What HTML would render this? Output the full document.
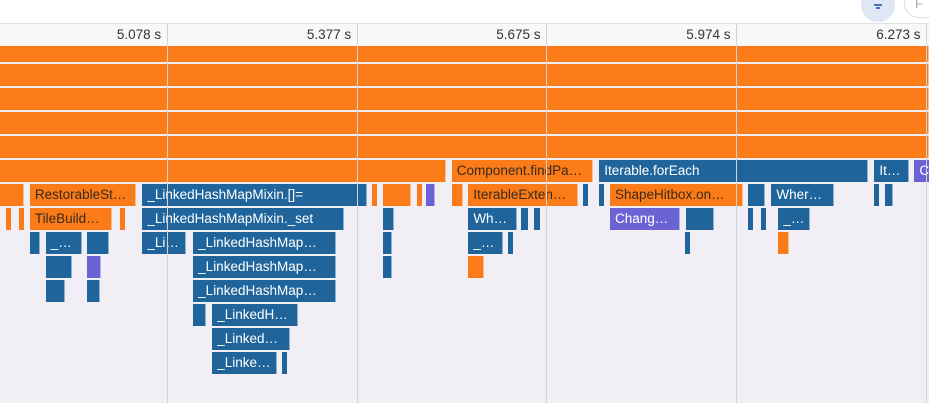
<!DOCTYPE html>
<html><head><meta charset="utf-8"><style>
body{margin:0;width:929px;height:403px;overflow:hidden;background:#f1eff5;font-family:"Liberation Sans",sans-serif;position:relative}
#top{position:absolute;left:0;top:0;width:929px;height:23px;background:#fff;border-bottom:1px solid #e0e0e0}
#axis{position:absolute;left:0;top:24px;width:929px;height:22px;background:#f8f8f8}
#flame{position:absolute;left:0;top:46px;width:929px;height:357px;overflow:hidden}
.bar{position:absolute;height:22px;box-sizing:border-box;font-size:13.5px;line-height:22px;padding-left:5px;white-space:nowrap;overflow:hidden;border-right:1px solid rgba(255,255,255,.5)}
.tick{position:absolute;font-size:13.5px;color:#333;top:3px}
.grid{position:absolute;top:24px;width:1px;height:379px;background:#d4d4d8}
</style></head><body>
<div id="top">
 <div style="position:absolute;left:861px;top:-12px;width:34px;height:34px;border-radius:17px;background:#dfe7f5"><div style="position:absolute;left:13px;top:16px;width:8px;height:2px;background:#4a6fc0"></div><div style="position:absolute;left:15px;top:19px;width:4px;height:2px;background:#4a6fc0"></div></div>
 <div style="position:absolute;left:904px;top:-12px;width:40px;height:30px;border-radius:15px;border:1px solid #ddd;background:#fff;color:#aaa;font-size:13px;line-height:30px;padding-left:10px;box-sizing:border-box">F</div>
</div>
<div id="axis"></div>
<div id="flame"></div>
<script>
const viewStart=4.815, secPerPx=0.0015737;
const ticks=[5.078,5.377,5.675,5.974,6.273];
const rows=[0,1,2,3,4,5,5,5,5,5,6,6,6,6,6,6,6,6,6,6,6,6,6,6,6,6,7,7,7,7,7,7,7,7,7,7,7,7,7,7,8,8,8,8,8,8,8,8,8,8,9,9,9,9,9,10,10,10,11,11,12,13,13];
const starts=[0,0,0,0,0,0,711,943,1376,1439,0,47,224,586,603,656,671,711,737,918,943,960,1177,1214,1376,1393,9,30,47,189,224,603,737,820,841,960,1080,1177,1198,1225,47,72,137,224,304,603,737,800,1078,1225,72,137,304,603,737,72,137,304,304,334,334,334,444];
const durations=[1462,1462,1462,1462,1462,702,222,423,54,31,38,167,353,6,44,6,14,17,173,5,8,209,27,98,8,13,3,3,129,3,318,17,76,11,9,110,44,2,3,50,16,57,35,69,225,14,55,2,2,17,41,22,224,14,25,31,20,224,20,135,123,102,6];
const kinds="ooooo"+"oobbp"+"oobooopoobbobbbb"+"oooobbbbbpbbbb"+"bbbbbbbbbo"+"bpbbo"+"bbb"+"bb"+"b"+"bb";
const labels={6:"Component.findPa…",7:"Iterable.forEach",8:"It…",9:"C",11:"RestorableSt…",12:"_LinkedHashMapMixin.[]=",18:"IterableExten…",21:"ShapeHitbox.on…",23:"Wher…",28:"TileBuild…",30:"_LinkedHashMapMixin._set",32:"Wh…",35:"Chang…",39:"_…",41:"_…",43:"_Li…",44:"_LinkedHashMap…",46:"_…",52:"_LinkedHashMap…",57:"_LinkedHashMap…",59:"_LinkedH…",60:"_Linked…",61:"_Linke…"};
const colors={o:"#fa7b17",b:"#1f659c",p:"#6b63d4"};
function xs(t){return (t-viewStart)/secPerPx;}
function xms(ms){return ms/1000/secPerPx;}
function yr(r){return -6+24*r;}
const axis=document.getElementById('axis');
ticks.forEach(t=>{
 const x=xs(t);
 const lab=document.createElement('div');lab.className='tick';
 
 
 lab.style.right=(929-x+6)+'px';lab.textContent=t.toFixed(3)+' s';axis.appendChild(lab);
 const g=document.createElement('div');g.className='grid';
 
 
 g.style.left=Math.round(x)+'px';document.body.appendChild(g);
});
const fl=document.getElementById('flame');
for(let i=0;i<rows.length;i++){
 const b=document.createElement('div');b.className='bar';
 
 
 const k=kinds[i];
 b.style.left=xms(starts[i])+'px';b.style.top=yr(rows[i])+'px';
 b.style.width=Math.max(1.5,xms(durations[i]))+'px';
 b.style.background=colors[k];b.style.color=k==='o'?'#3a2a1a':'#fff';
 if(xms(durations[i])<8)b.style.borderRight='none';
 if(labels[i])b.textContent=labels[i];
 fl.appendChild(b);
}
</script>
</body></html>
